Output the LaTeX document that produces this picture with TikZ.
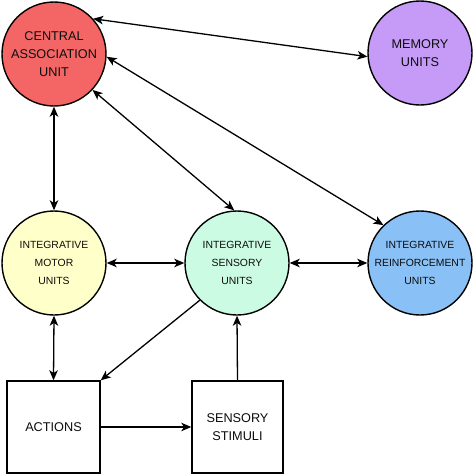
\documentclass[tikz,border=0pt]{standalone}
\usepackage{fontspec}
\setmainfont{Liberation Sans}
\usetikzlibrary{arrows.meta}
\definecolor{cred}{HTML}{F46666}
\definecolor{cpurple}{HTML}{C59BF7}
\definecolor{cyellow}{HTML}{FFFFC9}
\definecolor{cmint}{HTML}{CCFBE4}
\definecolor{cblue}{HTML}{89C0F5}
\definecolor{ctext}{HTML}{0D0D0D}
\tikzset{
  unit/.style={circle, draw=black, line width=1.4pt, minimum size=104pt, inner sep=0pt, align=center, text=ctext},
  bigtext/.style={font=\fontsize{12.7}{18}\selectfont},
  smalltext/.style={font=\fontsize{10.4}{18}\selectfont},
  boxnode/.style={rectangle, draw=black, line width=1.4pt, fill=white, inner sep=0pt, align=center, text=ctext, font=\fontsize{12.7}{18}\selectfont},
  conn/.style={line width=1.3pt, draw=black},
  tip/.tip={Stealth[length=10pt, width=8.5pt, inset=2.7pt]},
}
\begin{document}
\begin{tikzpicture}[x=1pt, y=-1pt]
\useasboundingbox (0,0) rectangle (474,474);
\node[unit, bigtext, fill=cred] (cau) at (54,54) {CENTRAL\\ASSOCIATION\\UNIT};
\node[unit, bigtext, fill=cpurple] (mem) at (420,53) {MEMORY\\UNITS};
\node[unit, smalltext, fill=cyellow] (mot) at (54,263) {INTEGRATIVE\\MOTOR\\UNITS};
\node[unit, smalltext, fill=cmint] (sen) at (237,263) {INTEGRATIVE\\SENSORY\\UNITS};
\node[unit, smalltext, fill=cblue] (rei) at (420,263) {INTEGRATIVE\\REINFORCEMENT\\UNITS};
\node[boxnode, minimum width=93pt, minimum height=92pt] (act) at (53.5,427) {ACTIONS};
\node[boxnode, minimum width=91pt, minimum height=92pt] (sti) at (237.5,427) {SENSORY\\STIMULI};

\draw[conn, tip-tip] (cau.42) -- (mem.184);
\draw[conn, tip-tip] (cau.-3) -- (rei.134);
\draw[conn, tip-tip] (cau.-43) -- (sen.93);
\draw[conn, tip-tip] (cau.south) -- (mot.north);
\draw[conn, tip-tip] (mot.east) -- (sen.west);
\draw[conn, tip-tip] (sen.east) -- (rei.west);
\draw[conn, tip-tip] (mot.south) -- (act.north);
\draw[conn, -tip] (sen.225) -- (act.north east);
\draw[conn, -tip] (sti.north) -- (sen.south);
\draw[conn, -tip] (act.east) -- (sti.west);
\end{tikzpicture}
\end{document}
